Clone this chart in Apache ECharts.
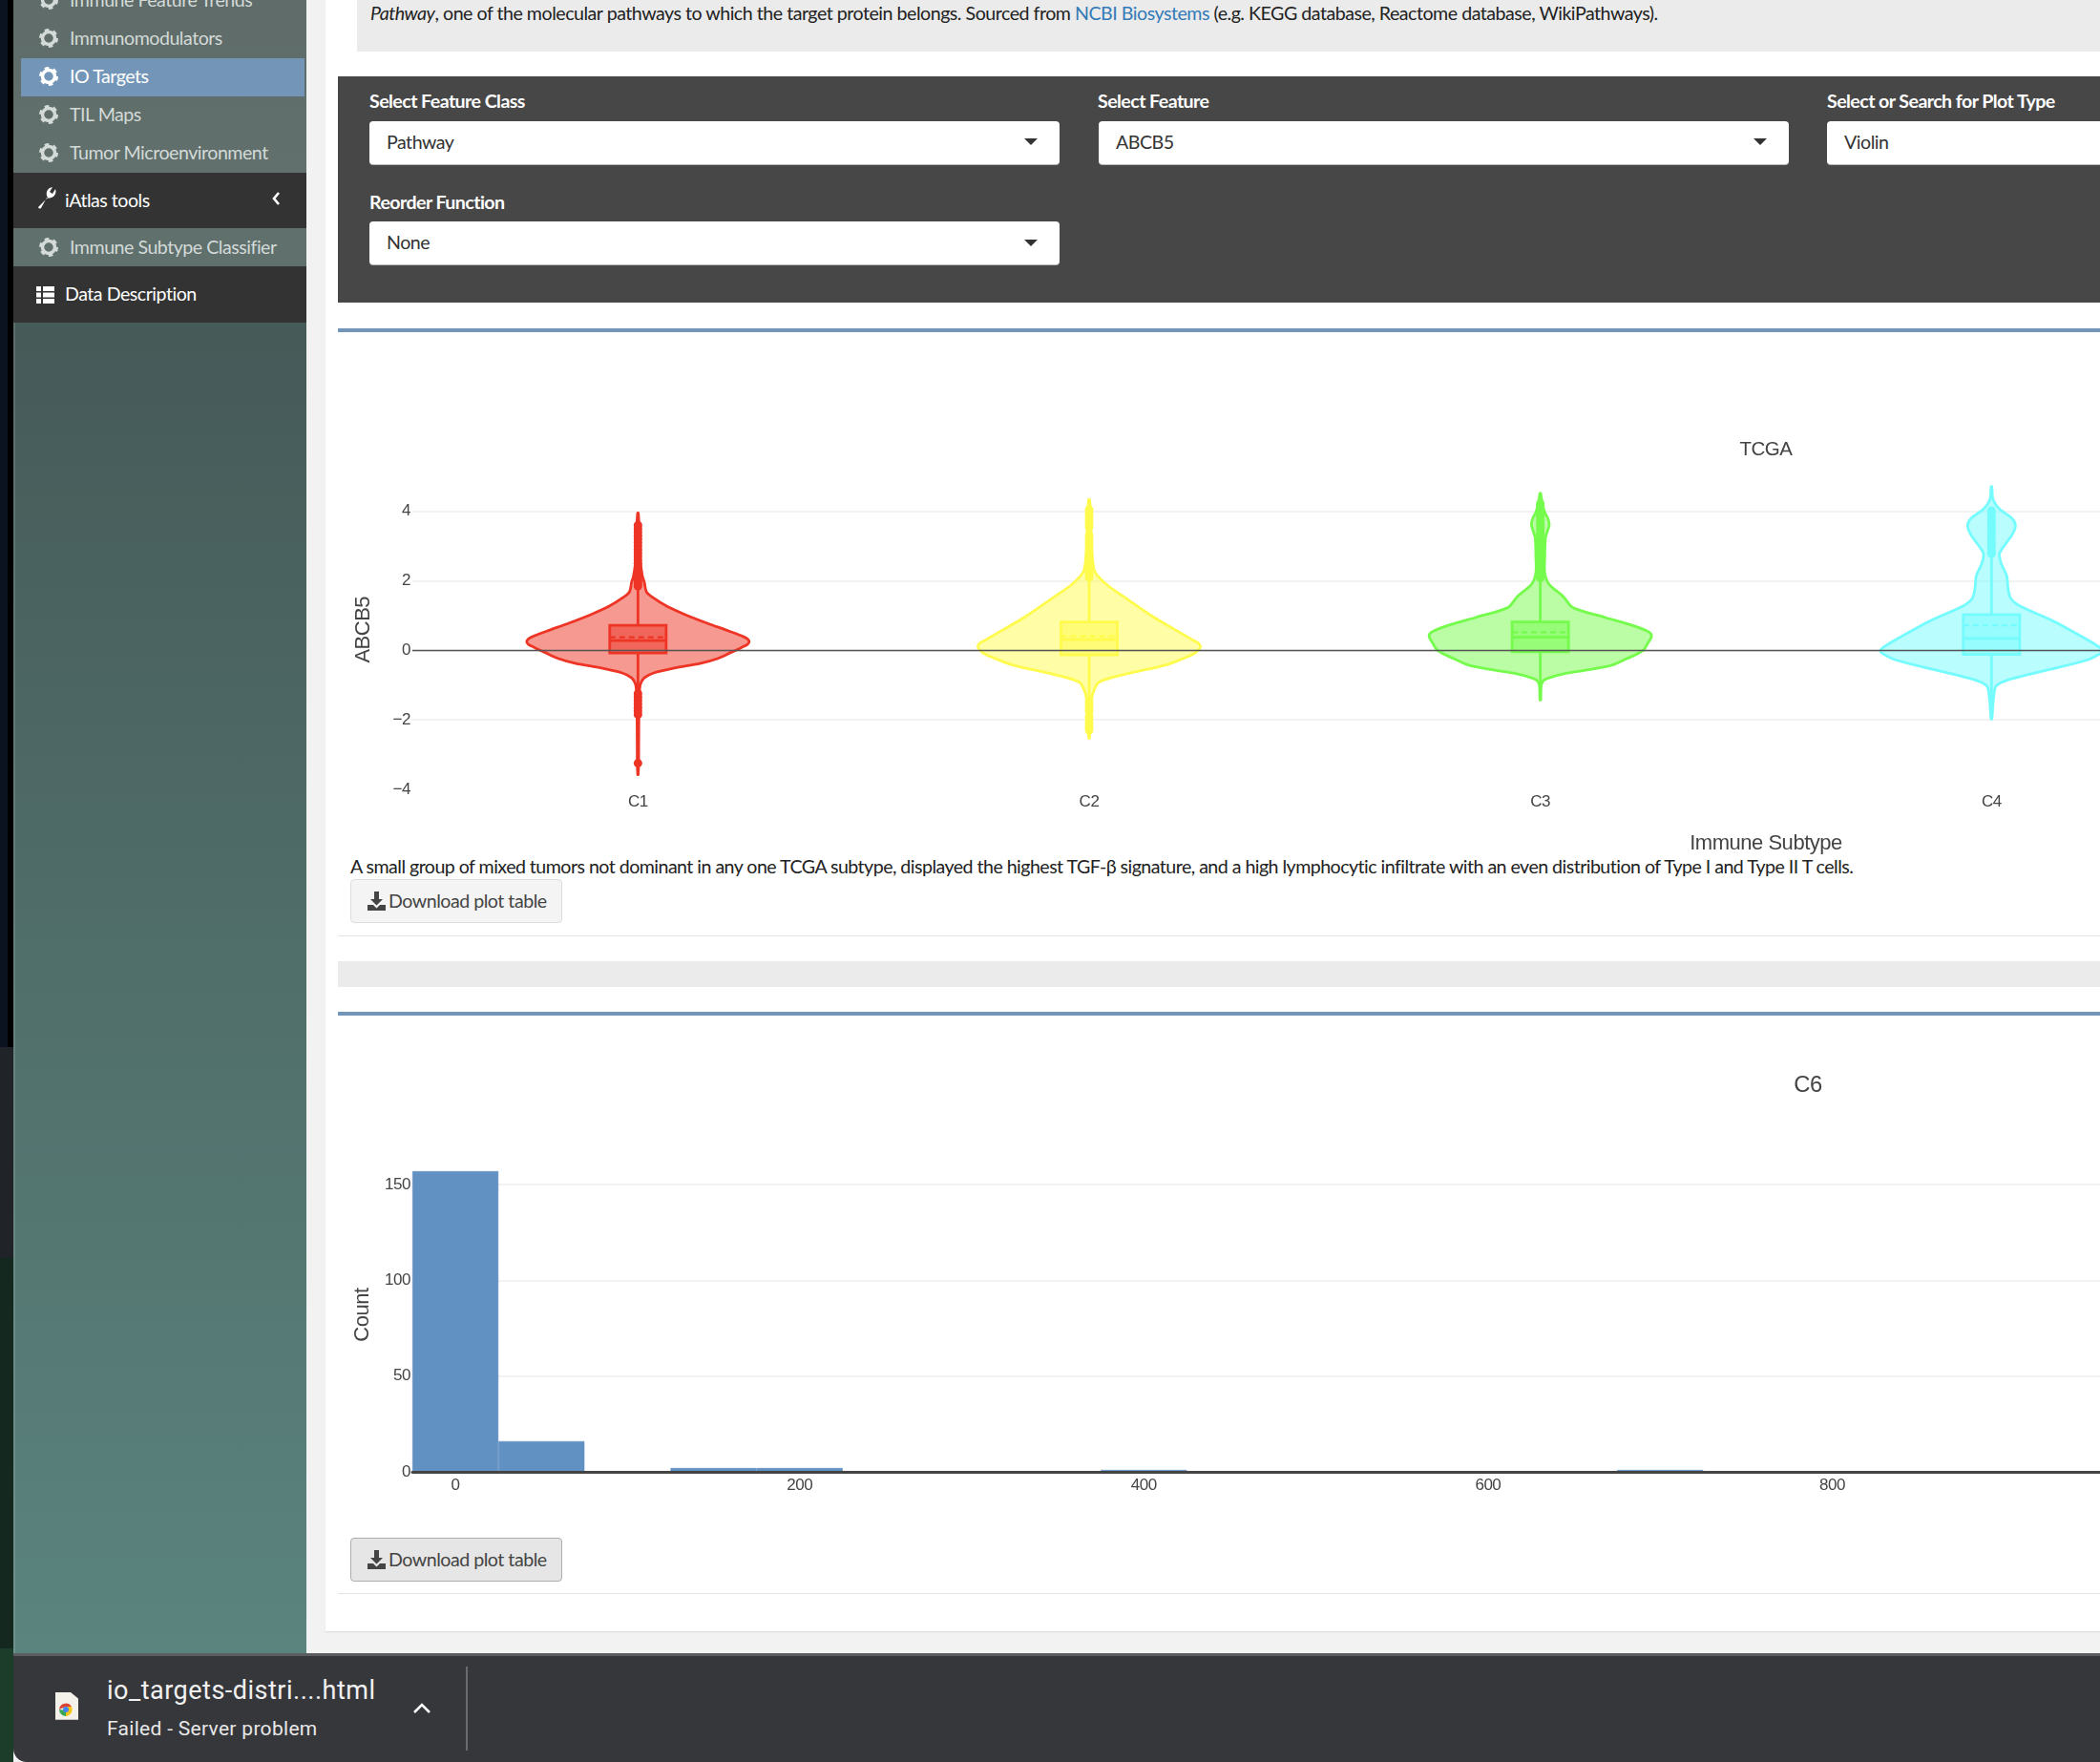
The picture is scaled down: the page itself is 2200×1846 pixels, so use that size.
<!DOCTYPE html>
<html>
<head>
<meta charset="utf-8">
<title>IO Targets</title>
<script src="https://cdn.jsdelivr.net/npm/echarts@6/dist/echarts.min.js"></script>
<style>
html,body{margin:0;padding:0;background:#f2f2f2;width:2200px;height:1846px;overflow:hidden;font-family:Lato,sans-serif;letter-spacing:-.48px}
.a{position:absolute;white-space:nowrap}
.t{position:absolute;white-space:nowrap;transform:translateY(-50%);font-size:19.6px;line-height:24px}
.menu{color:#d3dad8}
.sel{position:absolute;background:#fff;border-radius:4px;height:45px;box-shadow:0 1px 0 #bbb}
.sel span{position:absolute;left:18px;top:10px;font-size:19.6px;line-height:24px;color:#333}
.arrow{position:absolute;width:0;height:0;border-left:7px solid transparent;border-right:7px solid transparent;border-top:7px solid #333}
.lbl{position:absolute;white-space:nowrap;transform:translateY(-50%);font-size:19.6px;font-weight:700;color:#fff;line-height:24px;letter-spacing:-.56px}
.btn{position:absolute;left:367px;width:222px;height:46px;box-sizing:border-box;border-radius:4px;font-size:19.6px;color:#444;line-height:44px}
.btn span{position:absolute;left:39px}
.btn svg{position:absolute;left:17px;top:11px}
svg{position:absolute;overflow:visible}
#chart{position:absolute;left:0;top:0;width:2200px;height:1846px}
</style>
</head>
<body>
<!-- desktop edge behind the browser window -->
<div class="a" style="left:0;top:0;width:8px;height:1097px;background:#0c1320"></div>
<div class="a" style="left:8px;top:0;width:6px;height:1097px;background:#000"></div>
<div class="a" style="left:0;top:1097px;width:14px;height:221px;background:#202428"></div>
<div class="a" style="left:0;top:1318px;width:14px;height:409px;background:#14281f"></div>
<div class="a" style="left:0;top:1727px;width:14px;height:119px;background:#1c3d2a"></div>

<!-- sidebar -->
<div class="a" style="left:14px;top:0;width:307px;height:181px;background:linear-gradient(#5f6c69,#61706c)"></div>
<div class="a" style="left:22px;top:61px;width:297px;height:40px;background:#7396b8"></div>
<div class="a" style="left:14px;top:181px;width:307px;height:58px;background:#333"></div>
<div class="a" style="left:14px;top:239px;width:307px;height:40px;background:#5f706d"></div>
<div class="a" style="left:14px;top:279px;width:307px;height:59px;background:#333"></div>
<div class="a" style="left:14px;top:338px;width:307px;height:1394px;background:linear-gradient(#465a58,#5b847e)"></div>
<div class="a" style="left:14px;top:338px;width:2px;height:1394px;background:rgba(255,255,255,.12)"></div>
<div class="t menu" style="left:73px;top:0">Immune Feature Trends</div>
<div class="t menu" style="left:73px;top:40px">Immunomodulators</div>
<div class="t" style="left:73px;top:80px;color:#fff">IO Targets</div>
<div class="t menu" style="left:73px;top:120px">TIL Maps</div>
<div class="t menu" style="left:73px;top:160px">Tumor Microenvironment</div>
<div class="t" style="left:68px;top:210px;color:#fff">iAtlas tools</div>
<div class="t menu" style="left:73px;top:259px">Immune Subtype Classifier</div>
<div class="t" style="left:68px;top:308px;color:#fff">Data Description</div>
<svg id="icons" width="321" height="340" style="left:0;top:0"></svg>

<!-- main panel -->
<div class="a" style="left:341px;top:0;width:1859px;height:1709px;background:#fff;box-shadow:0 1px 1px #ddd"></div>
<div class="a" style="left:374px;top:0;width:1826px;height:54px;background:#ebebeb"></div>
<div class="t" style="left:388px;top:14px;color:#222"><i>Pathway</i>, one of the molecular pathways to which the target protein belongs. Sourced from <span style="color:#337ab7">NCBI Biosystems</span> (e.g. KEGG database, Reactome database, WikiPathways).</div>

<div class="a" style="left:354px;top:80px;width:1846px;height:237px;background:#474747"></div>
<div class="lbl" style="left:387px;top:106px">Select Feature Class</div>
<div class="lbl" style="left:1150px;top:106px">Select Feature</div>
<div class="lbl" style="left:1914px;top:106px">Select or Search for Plot Type</div>
<div class="lbl" style="left:387px;top:212px">Reorder Function</div>
<div class="sel" style="left:387px;top:127px;width:723px"><span>Pathway</span></div>
<div class="sel" style="left:1151px;top:127px;width:723px"><span>ABCB5</span></div>
<div class="sel" style="left:1914px;top:127px;width:300px"><span>Violin</span></div>
<div class="sel" style="left:387px;top:232px;width:723px"><span>None</span></div>
<div class="arrow" style="left:1073px;top:145px"></div>
<div class="arrow" style="left:1837px;top:145px"></div>
<div class="arrow" style="left:1073px;top:251px"></div>

<div class="a" style="left:354px;top:344px;width:1846px;height:4px;background:#7396b8"></div>
<div class="t" style="left:367px;top:908px;color:#222;letter-spacing:-.53px">A small group of mixed tumors not dominant in any one TCGA subtype, displayed the highest TGF-β signature, and a high lymphocytic infiltrate with an even distribution of Type I and Type II T cells.</div>
<div class="btn" style="top:921px;background:#f4f4f4;border:1px solid #ddd"><svg width="20" height="22" viewBox="0 0 20 22"><path d="M7 1h5v8h4l-6.500 6.500L3 9h4z M0 15h6l3.500 3.500L13 15h6v6H0z" fill="#444"/></svg><span>Download plot table</span></div>
<div class="a" style="left:354px;top:980px;width:1846px;height:1px;background:#e4e4e4"></div>
<div class="a" style="left:354px;top:1007px;width:1846px;height:27px;background:#ebebeb"></div>
<div class="a" style="left:354px;top:1060px;width:1846px;height:4px;background:#7396b8"></div>
<div class="btn" style="top:1611px;background:#e6e6e6;border:1px solid #adadad"><svg width="20" height="22" viewBox="0 0 20 22"><path d="M7 1h5v8h4l-6.500 6.500L3 9h4z M0 15h6l3.500 3.500L13 15h6v6H0z" fill="#444"/></svg><span>Download plot table</span></div>
<div class="a" style="left:354px;top:1669px;width:1846px;height:1px;background:#e4e4e4"></div>

<div id="chart"></div>

<!-- browser download bar -->
<div class="a" style="left:14px;top:1732px;width:2186px;height:114px;background:#36373b;border-top:3px solid #5c5d61;box-sizing:border-box;border-bottom-left-radius:14px"></div>
<div class="t" style="left:112px;top:1771px;font-family:Roboto,sans-serif;font-size:27px;letter-spacing:.5px;color:#f1f1f1">io_targets-distri....html</div>
<div class="t" style="left:112px;top:1811px;font-family:Roboto,sans-serif;font-size:21px;letter-spacing:.3px;color:#e8e8e8">Failed - Server problem</div>
<div class="a" style="left:488px;top:1746px;width:2px;height:88px;background:#6a6b6f"></div>
<svg width="30" height="30" style="left:430px;top:1778px"><path d="M4 16l8-8 8 8" fill="none" stroke="#fff" stroke-width="2.500"/></svg>
<svg width="26" height="30" style="left:57px;top:1773px"><path d="M1 0h16l8 8v28H1z" fill="#f3f1ea" transform="scale(1,.8)"/><circle cx="12" cy="18" r="7" fill="#fff"/><path d="M12 18m-7 0a7 7 0 0 1 13-3h-6z" fill="#dc4435"/><path d="M5 18a7 7 0 0 0 7 7l3-6z" fill="#3aa757"/><path d="M12 25a7 7 0 0 0 6-10h-6z" fill="#f5c518"/><circle cx="12" cy="18" r="3" fill="#4285f4"/></svg>

<script>
// tick labels and categories
const subtypes = ['C1', 'C2', 'C3', 'C4', 'C5', 'C6']
const histBins = ['0', '50', '100', '150', '200', '250', '300', '350', '400', '450', '500', '550', '600', '650', '700', '750', '800', '850', '900', '950']

// histogram for C6
const histCounts = [157, 16, 0, 2, 2, 0, 0, 0, 1, 0, 0, 0, 0, 0, 1, 0, 0, 0, 0, 0]

// violin outlines: ABCB5 level, width relative to the widest point
const c1Levels = [3.95, 3.51, 2.6, 2.14, 1.96, 1.68, 1.5, 1.27, 1.04, 0.77, 0.59, 0.42, 0.33, 0.25, 0.17, 0.08, -0.05, -0.24, -0.38, -0.51, -0.65, -0.79, -0.97, -1.15, -1.88, -3.17, -3.58]
const c1Widths = [0.003, 0.011, 0.02, 0.04, 0.057, 0.077, 0.143, 0.258, 0.415, 0.63, 0.787, 0.93, 0.985, 1, 0.985, 0.93, 0.844, 0.715, 0.558, 0.329, 0.143, 0.057, 0.023, 0.014, 0.008, 0.006, 0.002]
const c2Levels = [4.34, 3.88, 2.97, 2.33, 2.14, 1.87, 1.55, 0.95, 0.59, 0.3, 0.2, 0.11, 0.02, -0.08, -0.19, -0.42, -0.7, -0.92, -1.25, -1.61, -2.53]
const c2Widths = [0.004, 0.016, 0.022, 0.044, 0.077, 0.165, 0.308, 0.582, 0.775, 0.93, 0.985, 1, 0.985, 0.95, 0.88, 0.692, 0.308, 0.088, 0.033, 0.016, 0.003]
const c3Levels = [4.52, 4.25, 3.97, 3.79, 3.61, 3.42, 3.24, 2.69, 2.23, 1.91, 1.55, 1.23, 0.95, 0.68, 0.52, 0.4, 0.22, -0.01, -0.24, -0.42, -0.56, -0.68, -0.83, -0.97, -1.43]
const c3Widths = [0.003, 0.017, 0.04, 0.069, 0.08, 0.063, 0.046, 0.04, 0.04, 0.077, 0.206, 0.292, 0.578, 0.864, 0.979, 1, 0.97, 0.921, 0.778, 0.65, 0.435, 0.206, 0.049, 0.011, 0.003]
const c4Levels = [4.71, 4.34, 4.07, 3.79, 3.59, 3.33, 3.01, 2.78, 2.51, 2.14, 1.78, 1.5, 1.27, 0.86, 0.31, 0.08, -0.01, -0.09, -0.28, -0.6, -0.83, -1.02, -1.34, -1.98]
const c4Widths = [0.003, 0.014, 0.072, 0.186, 0.215, 0.186, 0.114, 0.072, 0.086, 0.137, 0.149, 0.172, 0.258, 0.544, 0.858, 0.975, 1, 0.98, 0.86, 0.458, 0.172, 0.043, 0.02, 0.003]

// box statistics, one value per drawn violin
const boxQ3 = [0.72, 0.815, 0.815, 1.03]
const boxMean = [0.375, 0.4, 0.52, 0.72]
const boxMedian = [0.28, 0.31, 0.375, 0.34]
const boxQ1 = [-0.08, -0.13, -0.04, -0.12]
const whiskerHigh = [1.85, 2.05, 2.05, 2.69]
const whiskerLow = [-1.2, -1.4, -1.43, -1.98]

// outlier points
const c1Outliers = [1.85, 1.92, 2, 2.1, 2.2, 2.3, 2.4, 2.5, 2.6, 2.7, 2.8, 2.9, 3, 3.1, 3.2, 3.3, 3.4, 3.5, 3.6, -1.25, -1.35, -1.45, -1.55, -1.65, -1.75, -1.85, -3.25]
const c2Outliers = [2.1, 2.2, 2.3, 2.4, 2.5, 2.6, 2.7, 2.8, 2.9, 3, 3.1, 3.2, 3.3, 3.55, 3.65, 3.75, 3.85, 3.95, 4.05, -1.45, -1.55, -1.65, -1.75, -1.9, -2, -2.1, -2.2, -2.3]
const c3Outliers = [2.08, 2.15, 2.25, 2.35, 2.45, 2.55, 2.65, 2.75, 2.85, 2.95, 3.05, 3.15, 3.25, 3.35, 3.45, 3.55, 3.65, 3.75, 3.85, 3.95, 4.05, 4.15, 4.22]
const c4Outliers = [2.78, 2.85, 2.95, 3.05, 3.15, 3.25, 3.35, 3.45, 3.55, 3.65, 3.75, 3.85, 3.95, 4.02]

const violinLevels = [c1Levels, c2Levels, c3Levels, c4Levels]
const violinWidths = [c1Widths, c2Widths, c3Widths, c4Widths]
const violinOutliers = [c1Outliers, c2Outliers, c3Outliers, c4Outliers]

const lineColors = ['#ee3424', '#fffb4c', '#75fb4c', '#74fbfd']
const fillColors = ['rgba(238,52,36,.5)', 'rgba(255,251,76,.5)', 'rgba(117,251,76,.5)', 'rgba(116,251,253,.5)']
const chartFont = '"Liberation Sans", Arial, sans-serif'

const renderViolin = (params, api) => {
  const i = params.dataIndex
  const band = api.size([1, 0])[0]
  const half = band * 0.2465
  const boxHalf = band * 0.0625
  const cx = api.coord([i, 0])[0]
  const y = v => api.coord([i, v])[1]
  const right = violinLevels[i].map((v, k) => [cx + half * violinWidths[i][k], y(v)])
  const left = violinLevels[i].map((v, k) => [cx - half * violinWidths[i][k], y(v)]).reverse()
  const line = { stroke: lineColors[i], lineWidth: 2.8, fill: null }
  return {
    type: 'group',
    children: [
      { type: 'polygon', shape: { points: right.concat(left), smooth: 0.3 }, style: { fill: fillColors[i], stroke: lineColors[i], lineWidth: 2.8 } },
      { type: 'line', shape: { x1: cx, x2: cx, y1: y(whiskerHigh[i]), y2: y(boxQ3[i]) }, style: line },
      { type: 'line', shape: { x1: cx, x2: cx, y1: y(boxQ1[i]), y2: y(whiskerLow[i]) }, style: line },
      { type: 'rect', shape: { x: cx - boxHalf, y: y(boxQ3[i]), width: boxHalf * 2, height: y(boxQ1[i]) - y(boxQ3[i]) }, style: { fill: fillColors[i], stroke: lineColors[i], lineWidth: 2.8 } },
      { type: 'line', shape: { x1: cx - boxHalf, x2: cx + boxHalf, y1: y(boxMedian[i]), y2: y(boxMedian[i]) }, style: line },
      { type: 'line', shape: { x1: cx - boxHalf, x2: cx + boxHalf, y1: y(boxMean[i]), y2: y(boxMean[i]) }, style: { stroke: lineColors[i], lineWidth: 2.4, lineDash: [6, 4], fill: null } }
    ]
  }
}

const tickLabel = { color: '#444', fontSize: 17, fontFamily: chartFont }
const nameStyle = { color: '#444', fontSize: 22, fontFamily: chartFont }

const chart = echarts.init(document.getElementById('chart'), null, { renderer: 'canvas', width: 2200, height: 1846 })
chart.setOption({
  animation: false,
  backgroundColor: 'transparent',
  title: [
    { text: 'TCGA', left: 1845, top: 456, textAlign: 'center', textStyle: { color: '#444', fontSize: 20.5, fontWeight: 'normal', fontFamily: chartFont } },
    { text: 'C6', left: 1889, top: 1120, textAlign: 'center', textStyle: { color: '#444', fontSize: 23.8, fontWeight: 'normal', fontFamily: chartFont } }
  ],
  grid: [
    { left: 432, top: 506.6, width: 2836, height: 320.3, outerBoundsMode: 'none' },
    { left: 432, top: 1221, width: 1803, height: 321, outerBoundsMode: 'none' }
  ],
  xAxis: [
    {
      type: 'category', gridIndex: 0, data: subtypes,
      name: 'Immune Subtype', nameLocation: 'middle', nameGap: 46, nameTextStyle: nameStyle,
      axisLine: { show: false }, axisTick: { show: false },
      axisLabel: Object.assign({ margin: 5, interval: 0 }, tickLabel), splitLine: { show: false }
    },
    {
      type: 'category', gridIndex: 1, data: histBins, z: 5, offset: 1,
      axisLine: { show: true, lineStyle: { color: '#444', width: 2.8 } }, axisTick: { show: false },
      axisLabel: Object.assign({ margin: 5, interval: 3 }, tickLabel), splitLine: { show: false }
    }
  ],
  yAxis: [
    {
      type: 'value', gridIndex: 0, min: -4, max: 4.8, interval: 2,
      name: 'ABCB5', nameLocation: 'middle', nameGap: 40, nameTextStyle: Object.assign({ padding: [0, 0, 0, 14] }, nameStyle),
      axisLine: { show: false }, axisTick: { show: false },
      axisLabel: Object.assign({ margin: 2, padding: [2, 0, 0, 0], showMaxLabel: false, formatter: v => String(v).replace('-', '\u2212') }, tickLabel),
      splitLine: { showMinLine: false, showMaxLine: false, lineStyle: { color: '#eee', width: 1.6 } }
    },
    {
      type: 'value', gridIndex: 1, min: 0, max: 160, interval: 50,
      name: 'Count', nameLocation: 'middle', nameGap: 40, nameTextStyle: Object.assign({ padding: [0, 0, 0, 8] }, nameStyle),
      axisLine: { show: false }, axisTick: { show: false },
      axisLabel: Object.assign({ margin: 2, padding: [2, 0, 0, 0], showMaxLabel: false }, tickLabel),
      splitLine: { showMaxLine: false, lineStyle: { color: '#eee', width: 1.6 } }
    }
  ],
  series: [
    // zero line of the violin plot, under the violins
    {
      type: 'line', name: 'zero', xAxisIndex: 0, yAxisIndex: 0, z: 1, data: [],
      markLine: { silent: true, symbol: 'none', label: { show: false }, animation: false, data: [{ yAxis: 0 }], lineStyle: { color: '#555', width: 1.4, type: 'solid' } }
    },
    {
      type: 'custom', name: 'violins', xAxisIndex: 0, yAxisIndex: 0, z: 3, renderItem: renderViolin, silent: true,
      data: violinLevels.map((v, i) => [i])
    }
  ].concat(violinOutliers.map((list, i) => ({
    type: 'scatter', name: subtypes[i] + ' outliers', xAxisIndex: 0, yAxisIndex: 0, z: 4, symbolSize: 9, silent: true,
    itemStyle: { color: lineColors[i], opacity: 1 },
    data: list.map(v => [i, v])
  }))).concat([
    {
      type: 'bar', name: 'Count', xAxisIndex: 1, yAxisIndex: 1, barWidth: '100%', silent: true,
      itemStyle: { color: '#6190c2', borderColor: '#6190c2', borderWidth: 0.6 }, data: histCounts
    }
  ])
})

// sidebar icons
const gear = (x, y, c) => `<circle cx="${x}" cy="${y}" r="6.5" fill="none" stroke="${c}" stroke-width="3.500"/><circle cx="${x}" cy="${y}" r="8.500" fill="none" stroke="${c}" stroke-width="3" stroke-dasharray="4.500 4.400"/>`
document.getElementById('icons').innerHTML =
  gear(51, 0, '#d3dad8') + gear(51, 40, '#d3dad8') + gear(51, 80, '#fff') + gear(51, 120, '#d3dad8') + gear(51, 160, '#d3dad8') + gear(51, 259, '#d3dad8') +
  '<path d="M40 217l10-10a7 7 0 0 1 5-11l-3 5 3 2 3-5a7 7 0 0 1-9 9l-6 11a2 2 0 0 1-3-1z" fill="#fff"/>' +
  '<path d="M292 202l-5 6 5 6" fill="none" stroke="#fff" stroke-width="2.600"/>' +
  '<path d="M38 300h5v5h-5zM45 300h12v5h-12zM38 306.500h5v5h-5zM45 306.500h12v5h-12zM38 313h5v5h-5zM45 313h12v5h-12z" fill="#fff"/>'
</script>
</body>
</html>
